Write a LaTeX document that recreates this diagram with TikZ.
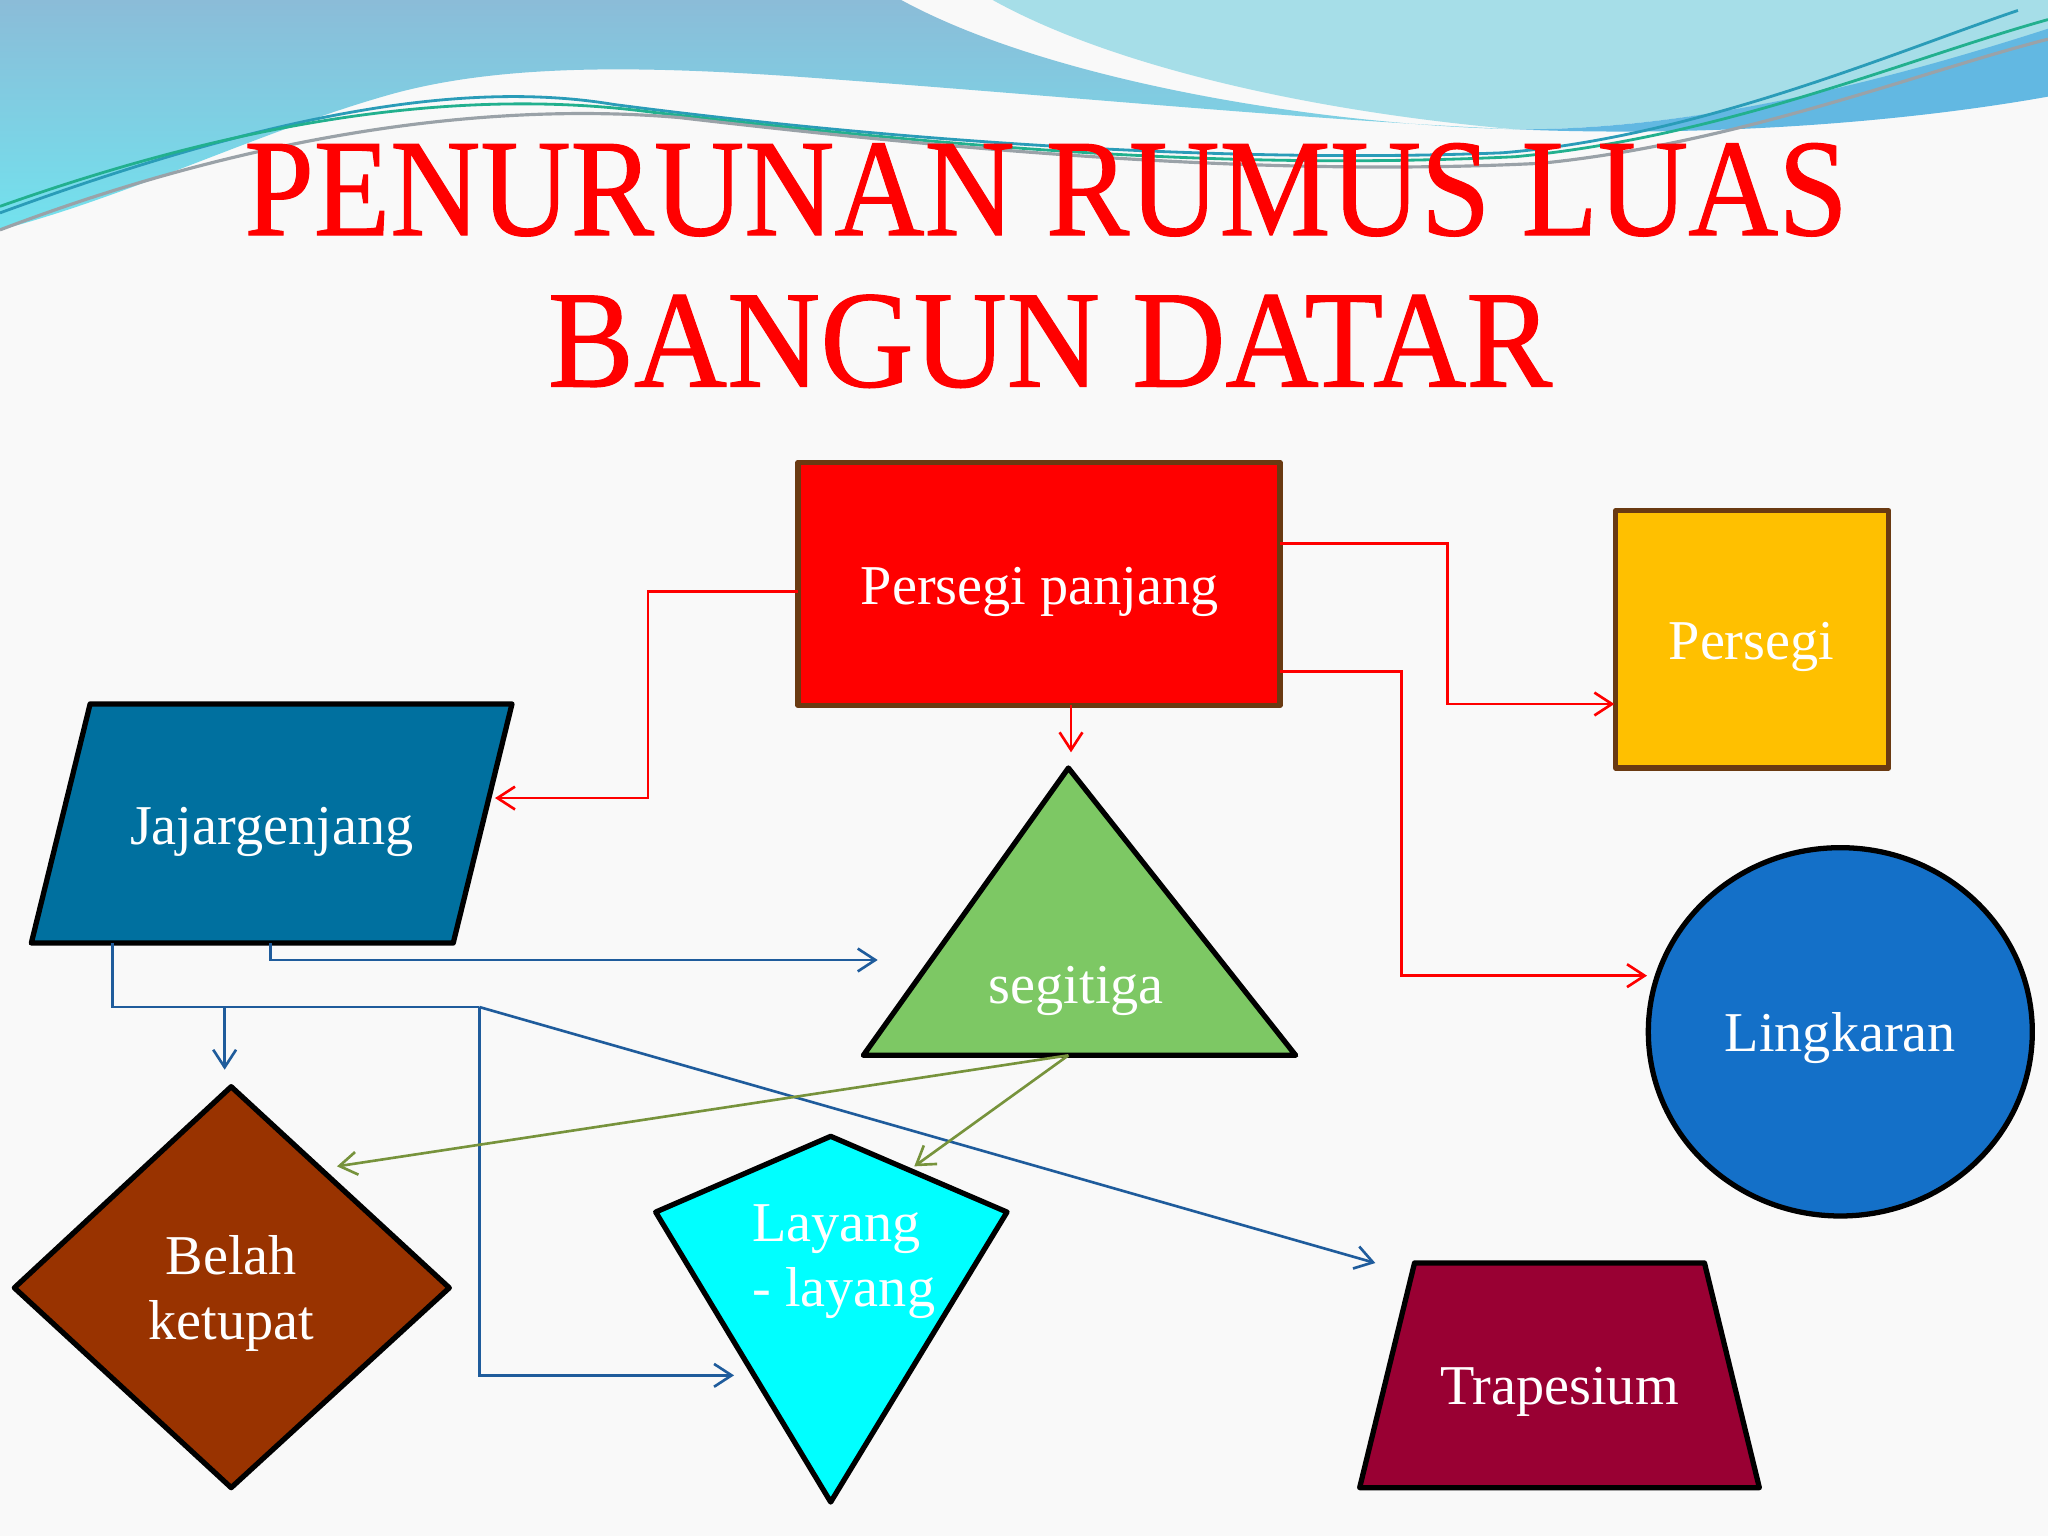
\documentclass[tikz,border=0pt]{standalone}
\usepackage{fontspec}
\setmainfont{Liberation Serif}
\newfontfamily\titlefont[FakeBold=0.8]{Liberation Serif}
\usetikzlibrary{arrows.meta}
\definecolor{bgc}{HTML}{F9F9F9}
\definecolor{wavetop}{HTML}{8BBCD8}
\definecolor{wavebot}{HTML}{72E2EE}
\definecolor{wavelight}{HTML}{A6DEE8}
\definecolor{waveband}{HTML}{62B8E2}
\definecolor{strandA}{HTML}{2A9CB8}
\definecolor{strandB}{HTML}{22B08E}
\definecolor{strandC}{HTML}{9AA2A8}
\definecolor{titlered}{HTML}{FF0000}
\definecolor{brownline}{HTML}{6A3A12}
\definecolor{ppred}{HTML}{FF0000}
\definecolor{psyellow}{HTML}{FFC000}
\definecolor{jjblue}{HTML}{00709F}
\definecolor{sgreen}{HTML}{7DC864}
\definecolor{lkblue}{HTML}{1470C8}
\definecolor{bkbrown}{HTML}{993300}
\definecolor{llcyan}{HTML}{00FFFF}
\definecolor{tpmaroon}{HTML}{990033}
\definecolor{conred}{HTML}{FF0000}
\definecolor{conblue}{HTML}{1F5C9C}
\definecolor{conolive}{HTML}{77933C}
\tikzset{
  shp/.style={line width=1.5pt, line join=round},
  lbl/.style={text=white, font=\fontsize{16}{18.5}\selectfont, align=center},
  con/.style={line width=0.75pt, -{Straight Barb[length=5pt,width=6.5pt,line width=0.75pt]}},
  conplain/.style={line width=0.75pt},
  titletext/.style={text=titlered, font=\titlefont\fontsize{39.5}{44}\selectfont, anchor=base, inner sep=0pt}
}
\begin{document}
\begin{tikzpicture}[x=0.013061cm,y=-0.013061cm]
% background
\fill[bgc] (0,0) rectangle (1568,1176);
\useasboundingbox (0,0) rectangle (1568,1176);
% top banner: left blue region
\shade[top color=wavetop, bottom color=wavebot]
  (0,0) -- (690,0) .. controls (800,60) and (1000,95) .. (1160,99)
  .. controls (1000,92) and (800,72) .. (600,58)
  .. controls (480,50) and (380,50) .. (300,72)
  .. controls (200,100) and (100,150) .. (0,176) -- cycle;
% right light region
\fill[wavelight] (760,0) -- (1568,0) -- (1568,25)
  .. controls (1450,60) and (1300,100) .. (1160,99)
  .. controls (1000,85) and (850,50) .. (760,0) -- cycle;
% right darker band
\fill[waveband] (1160,99) .. controls (1300,100) and (1450,60) .. (1568,22)
  -- (1568,74) .. controls (1450,95) and (1300,105) .. (1160,99) -- cycle;
% thin strands
\draw[strandA, line width=0.8pt] (0,163) .. controls (200,90) and (350,60) .. (470,80)
  .. controls (700,110) and (950,125) .. (1150,117)
  .. controls (1300,105) and (1450,40) .. (1545,8);
\draw[strandB, line width=0.8pt] (0,158) .. controls (220,80) and (380,70) .. (500,86)
  .. controls (750,115) and (950,130) .. (1160,120)
  .. controls (1320,105) and (1460,45) .. (1568,15);
\draw[strandC, line width=0.9pt] (0,176) .. controls (200,100) and (380,78) .. (520,90)
  .. controls (760,118) and (980,135) .. (1180,125)
  .. controls (1330,110) and (1470,55) .. (1568,30);
% title
\node[titletext] (title1) at (801,180) {\scalebox{0.9}[1]{PENURUNAN RUMUS LUAS}};
\node[titletext] (title2) at (804,296) {\scalebox{0.93}[1]{BANGUN DATAR}};
% shapes
\draw[shp, draw=brownline, fill=ppred] (611,354) rectangle (980,540);
\draw[shp, draw=brownline, fill=psyellow] (1237,391) rectangle (1446,588);
\draw[shp, draw=black, fill=jjblue] (69,539) -- (392,539) -- (347,722) -- (24,722) -- cycle;
\draw[shp, draw=black, fill=sgreen] (818,588) -- (992,808) -- (661,808) -- cycle;
\draw[shp, draw=black, fill=lkblue] (1409,790) ellipse [x radius=147, y radius=141];
\draw[shp, draw=black, fill=bkbrown] (177,832) -- (344,986) -- (177,1139) -- (11,986) -- cycle;
\draw[shp, draw=black, fill=llcyan] (636,870) -- (771,928) -- (636,1150) -- (502,928) -- cycle;
\draw[shp, draw=black, fill=tpmaroon] (1083,967) -- (1305,967) -- (1347,1139) -- (1041,1139) -- cycle;
% labels
\node[lbl] (pp) at (796,453) {Persegi panjang};
\node[lbl] (ps) at (1341,495) {Persegi};
\node[lbl] (jj) at (208,637) {Jajargenjang};
\node[lbl] (sg) at (824,759) {segitiga};
\node[lbl] (lk) at (1409,795) {Lingkaran};
\node[lbl] (bk) at (177,990) {Belah\\ketupat};
\node[lbl, align=left] (ll) at (646,966) {Layang\\- layang};
\node[lbl] (tp) at (1194,1066) {Trapesium};
% connection points
\coordinate (ppW) at (611,453);
\coordinate (ppE1) at (980,416);
\coordinate (ppE2) at (980,514);
\coordinate (ppS) at (820,540);
\coordinate (jjE) at (379,611);
\coordinate (psW) at (1236,539);
\coordinate (lkW) at (1261,747);
\coordinate (sgN) at (820,576);
\coordinate (jjS1) at (207,722);
\coordinate (jjS2) at (86,722);
\coordinate (sgW) at (672,735);
\coordinate (bkN) at (172,819);
\coordinate (llW) at (562,1053);
\coordinate (tpNW) at (1053,967);
\coordinate (sgS) at (818,808);
\coordinate (bkNE) at (258,893);
\coordinate (llNE) at (700,893);
\coordinate (jun) at (367,771);
% red connectors
\draw[con, conred] (ppW) -- (496,453) -- (496,611) -- (jjE);
\draw[con, conred] (ppE1) -- (1108,416) -- (1108,539) -- (psW);
\draw[con, conred] (ppE2) -- (1073,514) -- (1073,747) -- (lkW);
\draw[con, conred] (ppS) -- (sgN);
% blue connectors
\draw[con, conblue] (jjS1) -- (207,735) -- (sgW);
\draw[conplain, conblue] (jjS2) -- (86,771) -- (jun);
\draw[con, conblue] (172,771) -- (bkN);
\draw[con, conblue] (jun) -- (tpNW);
\draw[con, conblue] (jun) -- (367,1053) -- (llW);
% olive connectors
\draw[con, conolive] (sgS) -- (bkNE);
\draw[con, conolive] (sgS) -- (llNE);
\end{tikzpicture}
\end{document}
